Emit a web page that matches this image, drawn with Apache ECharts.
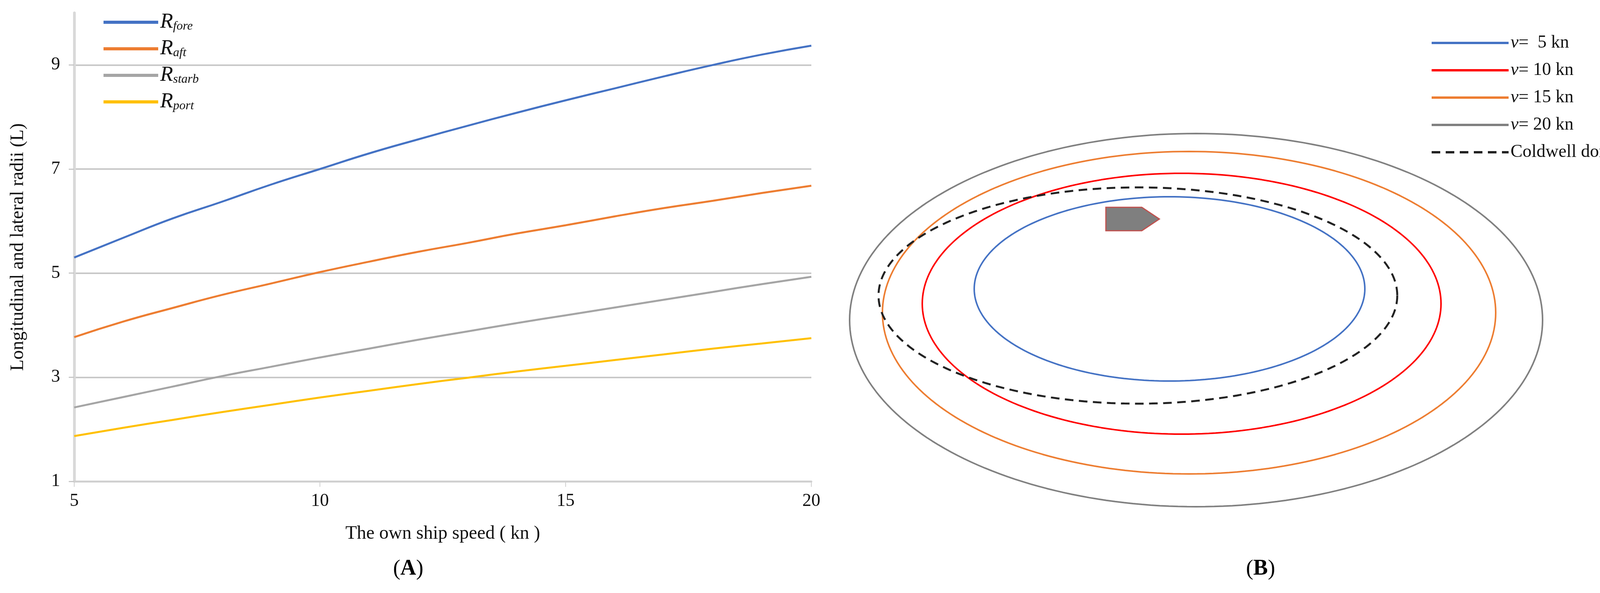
<!DOCTYPE html>
<html><head><meta charset="utf-8">
<script src="https://cdn.jsdelivr.net/npm/echarts@6/dist/echarts.min.js"></script>
<style>html,body{margin:0;padding:0;background:#fff;overflow:hidden}#c{width:4257px;height:1519px}</style>
</head><body><div id="c"></div>
<script>
// ---- Panel A data ----
const speeds = [5,6,7,8,9,10,11,12,13,14,15,16,17,18,19,20];
const rFore  = [5.30,5.68,6.05,6.37,6.70,7.00,7.30,7.57,7.83,8.08,8.32,8.55,8.78,9.00,9.20,9.37];
const rAft   = [3.77,4.07,4.33,4.58,4.80,5.02,5.22,5.41,5.58,5.76,5.92,6.09,6.25,6.39,6.54,6.68];
const rStarb = [2.42,2.62,2.82,3.02,3.20,3.38,3.55,3.72,3.88,4.04,4.19,4.34,4.49,4.64,4.79,4.93];
const rPort  = [1.87,2.03,2.18,2.33,2.47,2.61,2.74,2.87,2.99,3.11,3.22,3.33,3.44,3.55,3.65,3.75];
const seriesA = [['fore',rFore,'#4472C4'],['aft',rAft,'#ED7D31'],['starb',rStarb,'#A5A5A5'],['port',rPort,'#FFC000']];
// ---- Panel B data (ellipses: centre x, centre y, radius x, radius y) ----
const domainNames = ['v=  5 kn','v= 10 kn','v= 15 kn','v= 20 kn','Coldwell domain'];
const domainCx = [2994,3025,3044,3062,2913];
const domainCy = [740,778,801,820,757];
const domainRx = [500,664,785,887,664];
const domainRy = [236,334,413,478,277];
const domainColors = ['#4472C4','#FF0000','#ED7D31','#808080','#222222'];
const shipX = [2831,2923,2968,2923,2831];
const shipY = [531,531,561,591,591];

const serif = 'Liberation Serif';
function ellipse(i){
  const pts=[];
  for(let k=0;k<=240;k++){const t=k/240*2*Math.PI;pts.push([domainCx[i]+domainRx[i]*Math.cos(t),domainCy[i]+domainRy[i]*Math.sin(t)]);}
  return pts;
}
const series = [];
seriesA.forEach(([n,vals,c])=>{
  series.push({name:'R_'+n,type:'line',xAxisIndex:0,yAxisIndex:0,symbol:'none',smooth:true,
    data:speeds.map((s,i)=>[s,vals[i]]),lineStyle:{color:c,width:5},itemStyle:{color:c}});
});
domainNames.forEach((n,i)=>{
  series.push({name:n,type:'line',xAxisIndex:1,yAxisIndex:1,symbol:'none',data:ellipse(i),
    lineStyle:{color:domainColors[i],width:i===4?5:4,type:i===4?[22,14]:'solid'},itemStyle:{color:domainColors[i]}});
});
series.push({type:'custom',xAxisIndex:1,yAxisIndex:1,data:[0],
  renderItem:(p,api)=>({type:'polygon',shape:{points:shipX.map((x,i)=>api.coord([x,shipY[i]]))},
    style:{fill:'#7f7f7f',stroke:'#c0504d',lineWidth:3}})});

const chart = echarts.init(document.getElementById('c'));
chart.setOption({
  animation:false,
  textStyle:{fontFamily:serif},
  grid:[{left:190,top:33,width:1887,height:1200},{left:2100,top:300,width:2000,height:1100,show:false}],
  xAxis:[{type:'value',gridIndex:0,min:5,max:20,interval:5,
      axisLine:{lineStyle:{color:'#d0d0d0',width:5}},axisTick:{show:true,length:14,lineStyle:{color:'#d0d0d0',width:2}},
      axisLabel:{color:'#111',fontSize:46,fontFamily:serif,margin:28},splitLine:{show:false},
      name:'The own ship speed ( kn )',nameLocation:'middle',nameGap:110,nameTextStyle:{color:'#111',fontSize:48,fontFamily:serif}},
    {type:'value',gridIndex:1,min:2100,max:4100,show:false}],
  yAxis:[{type:'value',gridIndex:0,min:1,max:10,interval:2,
      axisLine:{show:true,lineStyle:{color:'#d9d9d9',width:7}},axisTick:{show:true,length:14,lineStyle:{color:'#c8c8c8',width:3}},
      axisLabel:{color:'#111',fontSize:46,fontFamily:serif,margin:36,showMaxLabel:false},
      splitLine:{show:true,showMaxLine:false,lineStyle:{color:'#c8c8c8',width:4}},
      name:'Longitudinal and lateral radii (L)',nameLocation:'middle',nameGap:120,nameTextStyle:{color:'#111',fontSize:48,fontFamily:serif}},
    {type:'value',gridIndex:1,min:300,max:1400,inverse:true,show:false}],
  legend:[{data:seriesA.map(s=>'R_'+s[0]),left:260,top:25,orient:'vertical',itemGap:14,itemWidth:140,itemHeight:8,
      icon:'rect',
      formatter:n=>'{r|R}{s|'+n.slice(2)+'}',
      textStyle:{rich:{r:{fontSize:54,fontStyle:'italic',fontFamily:serif,color:'#111'},
        s:{fontSize:32,fontStyle:'italic',fontFamily:serif,color:'#111',verticalAlign:'bottom',padding:[22,0,0,0]}}}},
    {data:domainNames,left:3657,top:82,orient:'vertical',itemGap:24,itemWidth:197,itemHeight:48,
      itemStyle:{opacity:0},lineStyle:{width:6},
      formatter:n=>n.startsWith('v')?'{i|v}{n|'+n.slice(1)+'}':'{n|'+n+'}',
      textStyle:{rich:{i:{fontSize:46,fontStyle:'italic',fontFamily:serif,color:'#111'},n:{fontSize:46,fontFamily:serif,color:'#111'}}}}],
  title:[{text:'({b|A})',left:1040,top:1425,textAlign:'center',textStyle:{fontSize:56,fontWeight:'normal',fontFamily:serif,color:'#000',rich:{b:{fontSize:56,fontWeight:'bold',fontFamily:serif}}}},
    {text:'({b|B})',left:3222,top:1425,textAlign:'center',textStyle:{fontSize:56,fontWeight:'normal',fontFamily:serif,color:'#000',rich:{b:{fontSize:56,fontWeight:'bold',fontFamily:serif}}}}],
  series
});
</script></body></html>
